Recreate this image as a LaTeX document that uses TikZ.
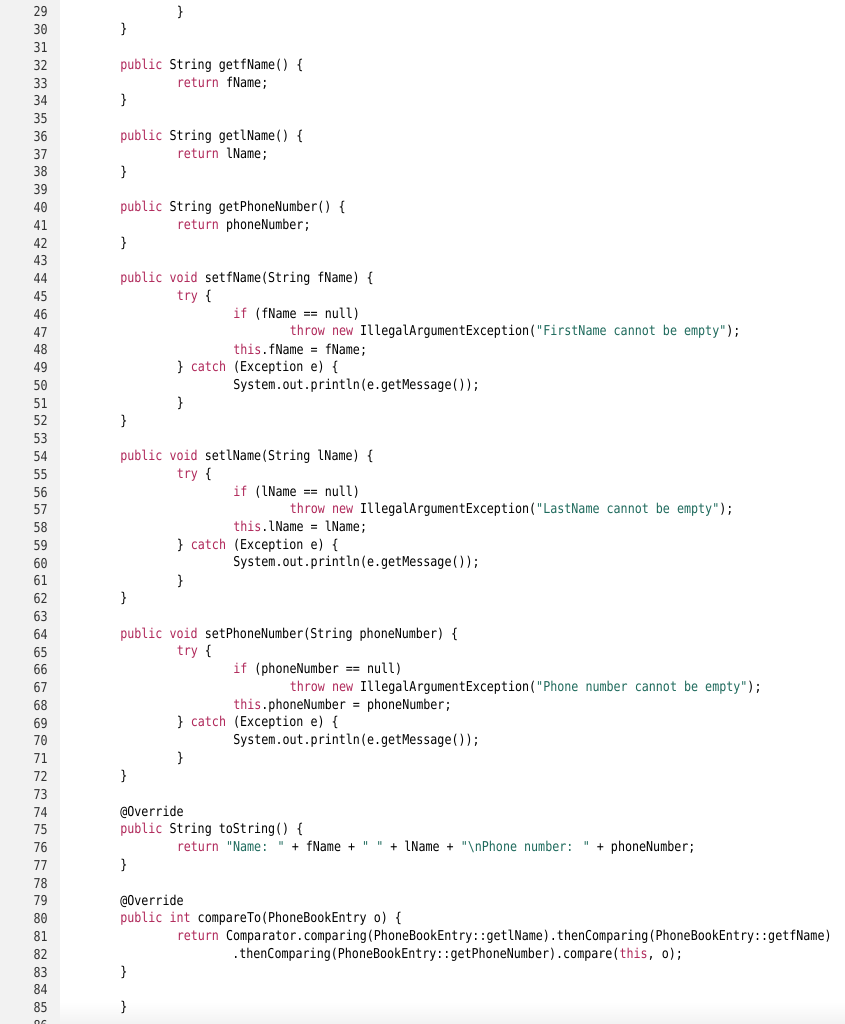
\documentclass[tikz,border=0pt]{standalone}
\usepackage{fontspec}
\newfontfamily\codef{DejaVu Sans Mono}[FakeStretch=0.86]
\definecolor{kw}{HTML}{B0285A}
\definecolor{st}{HTML}{1E6A5C}
\definecolor{gut}{HTML}{F2F2F2}
\definecolor{num}{HTML}{333333}
\newcommand{\kw}[1]{\textcolor{kw}{#1}}
\newcommand{\st}[1]{\textcolor{st}{#1}}
\begin{document}
\begin{tikzpicture}[x=0.75pt,y=-0.75pt,
  code/.style={anchor=west,inner sep=0pt,font=\codef\fontsize{10.2pt}{11pt}\selectfont,text=black},
  lnum/.style={anchor=east,inner sep=0pt,font=\codef\fontsize{10.2pt}{11pt}\selectfont,text=num}]
\useasboundingbox (0,0) rectangle (845,1024);
\fill[white] (0,0) rectangle (845,1024);
\shade[top color=white,bottom color=gray!10] (60,1002) rectangle (845,1024);
\fill[gut] (0,0) rectangle (60,1024);
\newcommand{\Ln}[3]{\node[lnum] (n#1) at (48,{12+(#1-29)*17.78}) {#1};
  \node[code] (c#1) at ({120+56.5*#2},{12+(#1-29)*17.78}) {#3};}
\newcommand{\Le}[1]{\node[lnum] (n#1) at (48,{12+(#1-29)*17.78}) {#1};}
\Ln{29}{1}{\}}
\Ln{30}{0}{\}}
\Le{31}
\Ln{32}{0}{\kw{public} String getfName() \{}
\Ln{33}{1}{\kw{return} fName;}
\Ln{34}{0}{\}}
\Le{35}
\Ln{36}{0}{\kw{public} String getlName() \{}
\Ln{37}{1}{\kw{return} lName;}
\Ln{38}{0}{\}}
\Le{39}
\Ln{40}{0}{\kw{public} String getPhoneNumber() \{}
\Ln{41}{1}{\kw{return} phoneNumber;}
\Ln{42}{0}{\}}
\Le{43}
\Ln{44}{0}{\kw{public} \kw{void} setfName(String fName) \{}
\Ln{45}{1}{\kw{try} \{}
\Ln{46}{2}{\kw{if} (fName == null)}
\Ln{47}{3}{\kw{throw} \kw{new} IllegalArgumentException(\st{"FirstName cannot be empty"});}
\Ln{48}{2}{\kw{this}.fName = fName;}
\Ln{49}{1}{\} \kw{catch} (Exception e) \{}
\Ln{50}{2}{System.out.println(e.getMessage());}
\Ln{51}{1}{\}}
\Ln{52}{0}{\}}
\Le{53}
\Ln{54}{0}{\kw{public} \kw{void} setlName(String lName) \{}
\Ln{55}{1}{\kw{try} \{}
\Ln{56}{2}{\kw{if} (lName == null)}
\Ln{57}{3}{\kw{throw} \kw{new} IllegalArgumentException(\st{"LastName cannot be empty"});}
\Ln{58}{2}{\kw{this}.lName = lName;}
\Ln{59}{1}{\} \kw{catch} (Exception e) \{}
\Ln{60}{2}{System.out.println(e.getMessage());}
\Ln{61}{1}{\}}
\Ln{62}{0}{\}}
\Le{63}
\Ln{64}{0}{\kw{public} \kw{void} setPhoneNumber(String phoneNumber) \{}
\Ln{65}{1}{\kw{try} \{}
\Ln{66}{2}{\kw{if} (phoneNumber == null)}
\Ln{67}{3}{\kw{throw} \kw{new} IllegalArgumentException(\st{"Phone number cannot be empty"});}
\Ln{68}{2}{\kw{this}.phoneNumber = phoneNumber;}
\Ln{69}{1}{\} \kw{catch} (Exception e) \{}
\Ln{70}{2}{System.out.println(e.getMessage());}
\Ln{71}{1}{\}}
\Ln{72}{0}{\}}
\Le{73}
\Ln{74}{0}{@Override}
\Ln{75}{0}{\kw{public} String toString() \{}
\Ln{76}{1}{\kw{return} \st{"Name: "} + fName + \st{" "} + lName + \st{"\textbackslash nPhone number: "} + phoneNumber;}
\Ln{77}{0}{\}}
\Le{78}
\Ln{79}{0}{@Override}
\Ln{80}{0}{\kw{public} \kw{int} compareTo(PhoneBookEntry o) \{}
\Ln{81}{1}{\kw{return} Comparator.comparing(PhoneBookEntry::getlName).thenComparing(PhoneBookEntry::getfName)}
\node[code] (c82) at (232,{12+53*17.78}) {.thenComparing(PhoneBookEntry::getPhoneNumber).compare(\kw{this}, o);};
\node[lnum] (n82) at (48,{12+53*17.78}) {82};
\Ln{83}{0}{\}}
\Le{84}
\Ln{85}{0}{\}}
\Le{86}
\end{tikzpicture}
\end{document}
